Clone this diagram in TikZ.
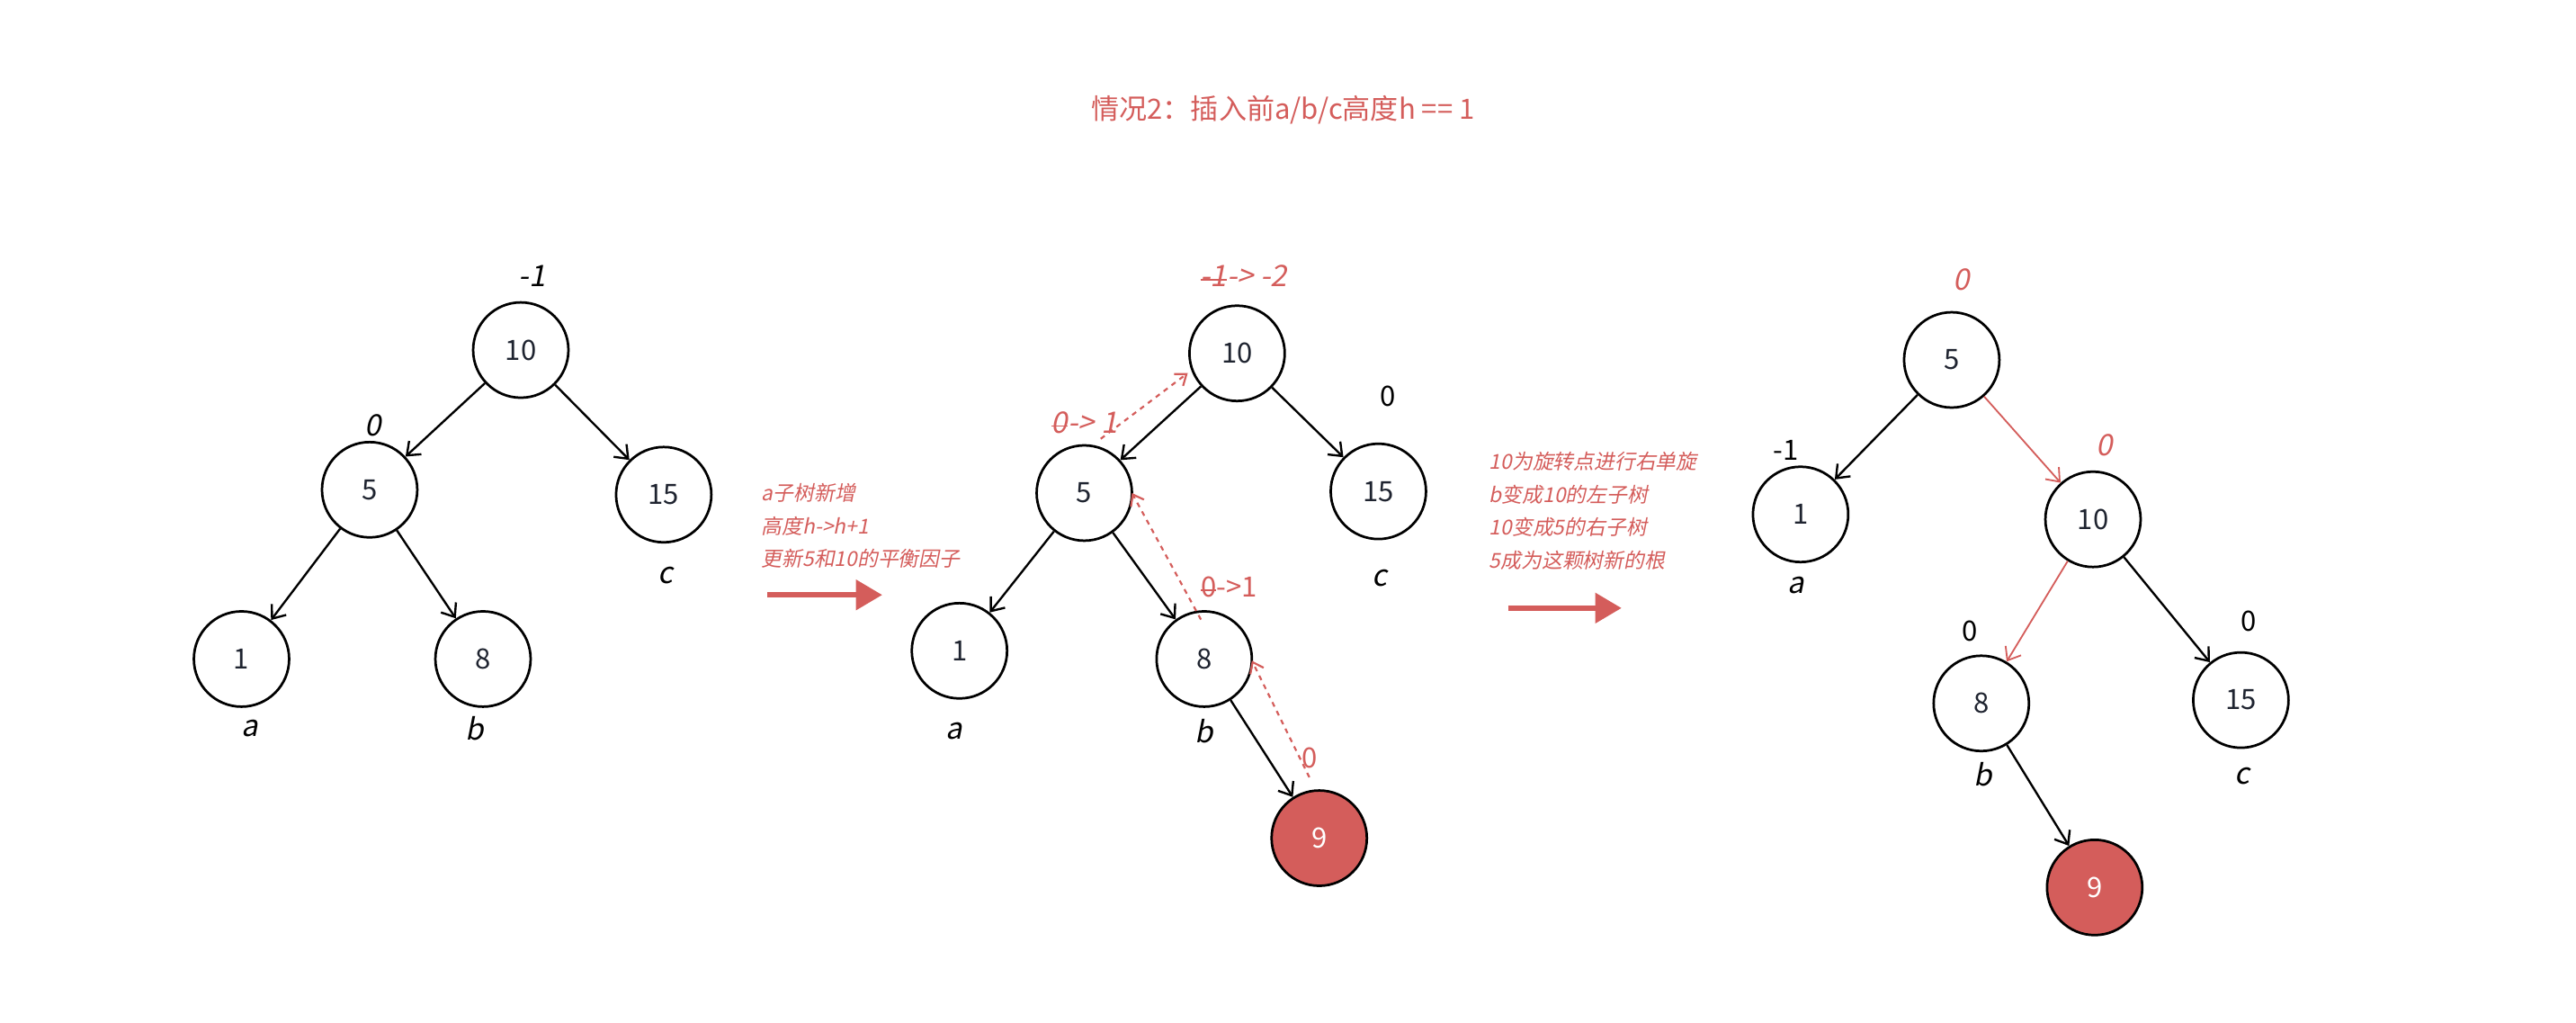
\documentclass[tikz,border=0pt]{standalone}
\usepackage{fontspec}
\setmainfont{Noto Sans CJK SC}
\newfontfamily\itf[FakeSlant=0.2]{Noto Sans CJK SC}
\usetikzlibrary{arrows.meta}
\definecolor{rd}{HTML}{D45D5B}
\definecolor{tx}{HTML}{1F2430}
\newcommand\strk[1]{\setbox0\hbox{#1}\rlap{\usebox0}\rule[0.38ex]{\wd0}{0.09ex}}
\begin{document}
\begin{tikzpicture}[x=1pt,y=-1pt,
  nd/.style={circle,draw=black,line width=1.5pt,minimum size=58pt,inner sep=0,font=\fontsize{17}{17}\selectfont,text=tx},
  rn/.style={nd,fill=rd,text=white},
  ed/.style={line width=1.3pt,-{Straight Barb[length=7pt,width=11pt]}},
  red/.style={ed,draw=rd,line width=1pt},
  dt/.style={draw=rd,line width=1.2pt,dash pattern=on 3pt off 3pt,-{Straight Barb[length=6pt,width=9pt]}},
  lb/.style={font=\itf\fontsize{18}{18}\selectfont},
  bl/.style={font=\fontsize{17}{17}\selectfont},
  note/.style={font=\itf\fontsize{12.5}{20}\selectfont,text=rd,align=left,anchor=west},
  big/.style={line width=3pt,draw=rd,-{Triangle[length=16pt,width=18pt]}}]
\useasboundingbox (0,0) rectangle (1568,622);
\node[text=rd,font=\fontsize{17}{17}\selectfont] (title) at (781,67) {情况2：插入前a/b/c高度h == 1};
% tree 1
\node[nd] (a10) at (317,213) {10};
\node[nd] (a5) at (225,298) {5};
\node[nd] (a15) at (404,301) {15};
\node[nd] (a1) at (147,401) {1};
\node[nd] (a8) at (294,401) {8};
\draw[ed] (a10) -- (a5); \draw[ed] (a10) -- (a15);
\draw[ed] (a5) -- (a1); \draw[ed] (a5) -- (a8);
\node[lb] (l1) at (324,168) {-1};
\node[lb] (l2) at (227,259) {0};
\node[lb] (la1) at (152,443) {a};
\node[lb] (lb1) at (289,443) {b};
\node[lb] (lc1) at (405,350) {c};
% note 1
\node[note] (n1) at (460,320) {a子树新增\\高度h->h+1\\更新5和10的平衡因子};
\coordinate (p1) at (467,362); \coordinate (p2) at (537,362);
\draw[big] (p1) -- (p2);
% tree 2
\node[nd] (b10) at (753,215) {10};
\node[nd] (b5) at (660,300) {5};
\node[nd] (b15) at (839,299) {15};
\node[nd] (b1) at (584,396) {1};
\node[nd] (b8) at (733,401) {8};
\node[rn] (b9) at (803,510) {9};
\draw[ed] (b10) -- (b5); \draw[ed] (b10) -- (b15);
\draw[ed] (b5) -- (b1); \draw[ed] (b5) -- (b8);
\draw[ed] (b8) -- (b9);
\node[lb,text=rd] (m1) at (757,168) {\strk{-1}-> -2};
\node[lb,text=rd] (m2) at (660,257) {\strk{0}-> 1};
\node[bl,text=rd] (m3) at (748,357) {\strk{0}->1};
\node[bl,text=rd] (m4) at (797,461) {0};
\node[bl] (m5) at (845,241) {0};
\node[lb] (la2) at (581,445) {a};
\node[lb] (lb2) at (733,445) {b};
\node[lb] (lc2) at (840,352) {c};
\coordinate (d1) at (797,473); \coordinate (d2) at (762,402);
\coordinate (d3) at (731,377); \coordinate (d4) at (689,300);
\coordinate (d5) at (670,267); \coordinate (d6) at (723,227);
\draw[dt] (d1) -- (d2); \draw[dt] (d3) -- (d4); \draw[dt] (d5) -- (d6);
% note 2
\node[note] (n2) at (903,311) {10为旋转点进行右单旋\\b变成10的左子树\\10变成5的右子树\\5成为这颗树新的根};
\coordinate (q1) at (918,370); \coordinate (q2) at (987,370);
\draw[big] (q1) -- (q2);
% tree 3
\node[nd] (c5) at (1188,219) {5};
\node[nd] (c1) at (1096,313) {1};
\node[nd] (c10) at (1274,316) {10};
\node[nd] (c8) at (1206,428) {8};
\node[nd] (c15) at (1364,426) {15};
\node[rn] (c9) at (1275,540) {9};
\draw[ed] (c5) -- (c1); \draw[red] (c5) -- (c10);
\draw[red] (c10) -- (c8); \draw[ed] (c10) -- (c15);
\draw[ed] (c8) -- (c9);
\node[lb,text=rd] (k1) at (1194,170) {0};
\node[bl] (k2) at (1087,274) {-1};
\node[lb,text=rd] (k3) at (1281,271) {0};
\node[bl] (k4) at (1199,384) {0};
\node[bl] (k5) at (1369,378) {0};
\node[lb] (la3) at (1093,356) {a};
\node[lb] (lb3) at (1207,471) {b};
\node[lb] (lc3) at (1365,472) {c};
\end{tikzpicture}
\end{document}
